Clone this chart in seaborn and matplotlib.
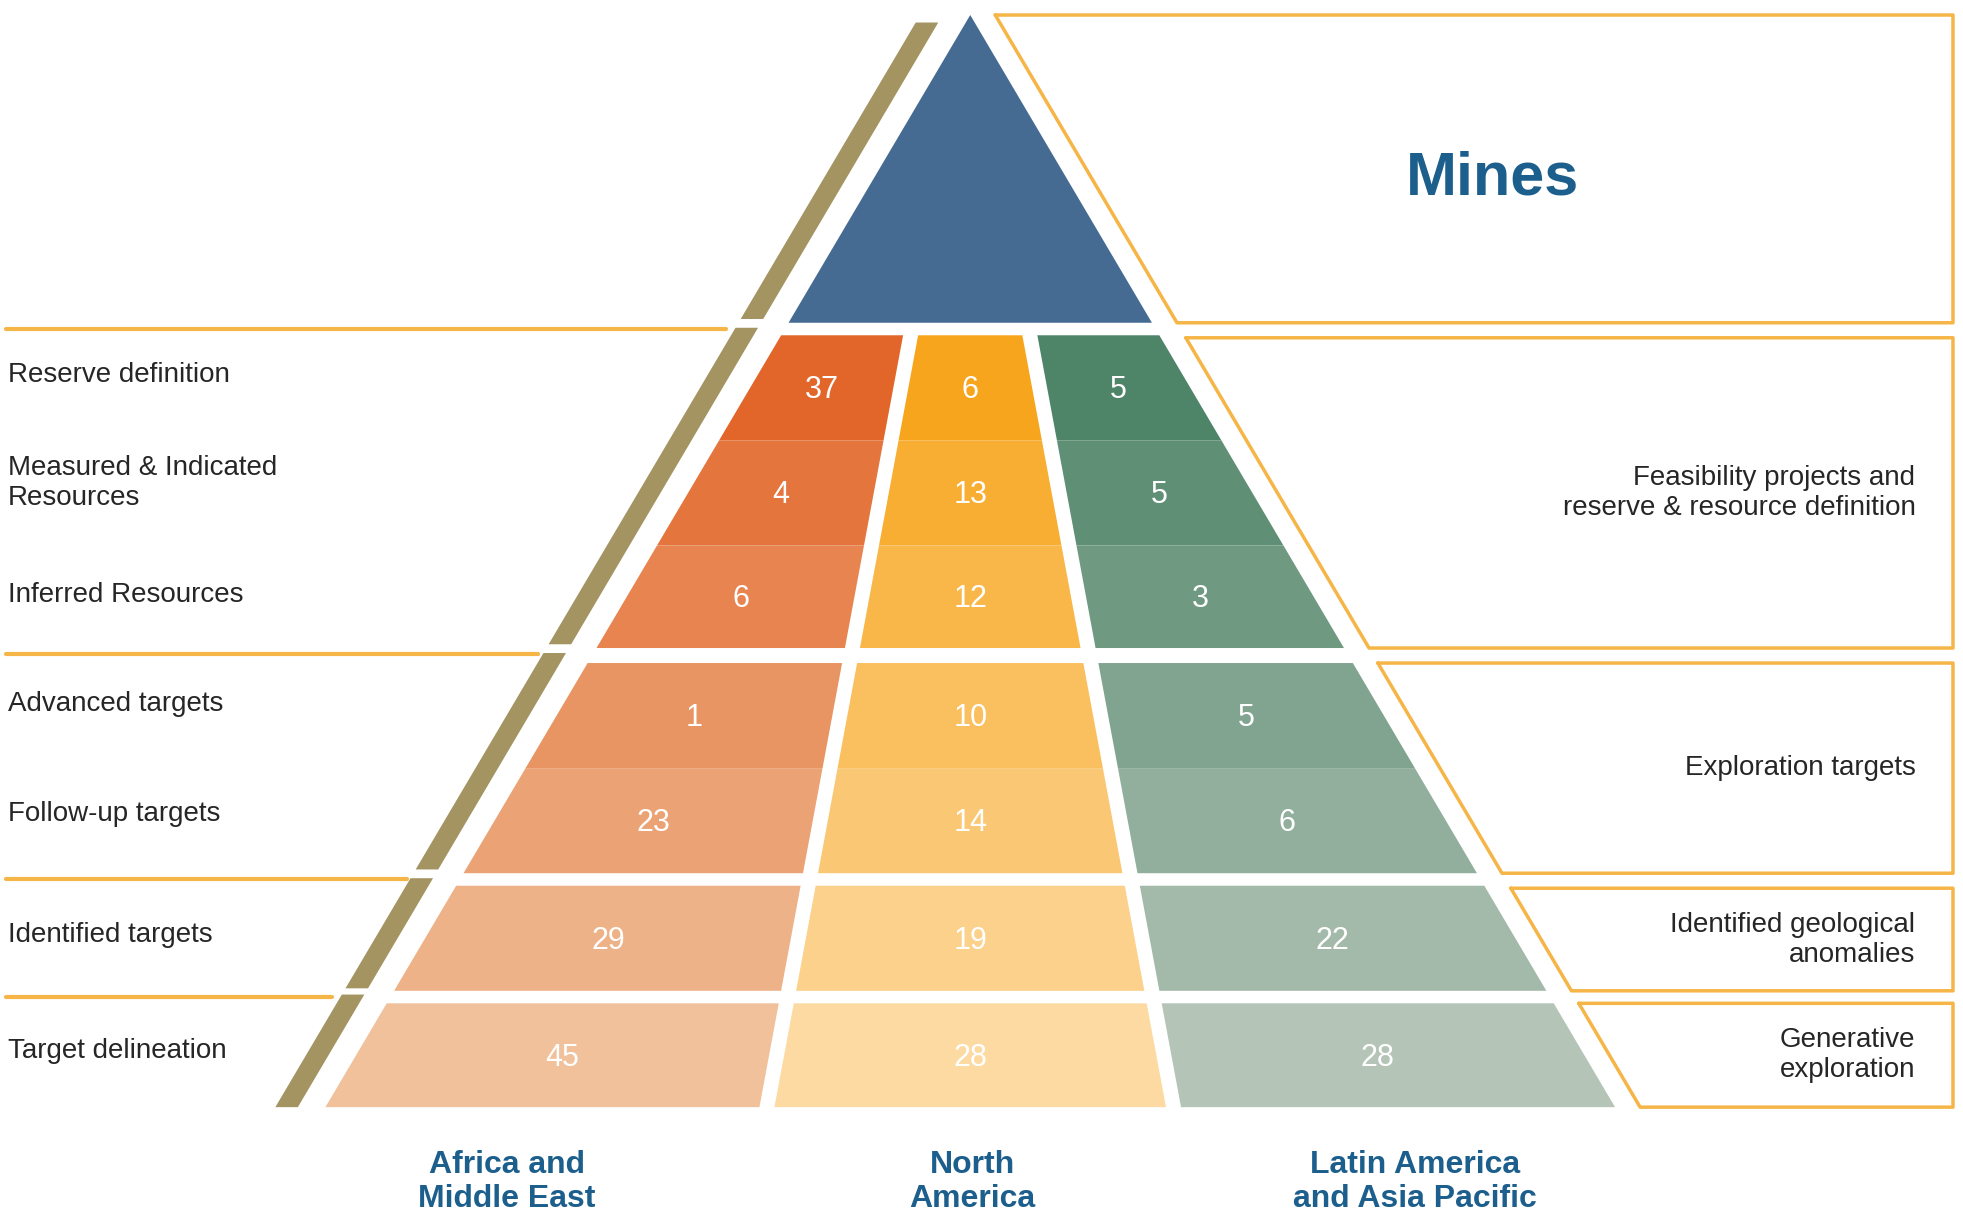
"""
Pirâmide de projetos de exploração por região
"""

import matplotlib.pyplot as plt
from matplotlib.patches import Polygon
import seaborn as sns

sns.set_style("white")
plt.rcParams['font.family'] = ['Liberation Sans', 'DejaVu Sans']

# Dados
stages = ['Reserve definition', 'Measured & Indicated\nResources', 'Inferred Resources',
          'Advanced targets', 'Follow-up targets', 'Identified targets', 'Target delineation']
regions = ['Africa and\nMiddle East', 'North\nAmerica', 'Latin America\nand Asia Pacific']
africa = [37, 4, 6, 1, 23, 29, 45]
north_america = [6, 13, 12, 10, 14, 19, 28]
latam_apac = [5, 5, 3, 5, 6, 22, 28]
groups = ['Mines', 'Feasibility projects and\nreserve & resource definition',
          'Exploration targets', 'Identified geological\nanomalies', 'Generative\nexploration']

# Geometria (coordenadas da imagem)
APEX_X, APEX_Y = 775, 12
SLOPE = 0.59
DIV = 0.186
GAP = 6
rows = [(268, 352), (352, 436), (436, 518), (530, 614), (614, 698), (708, 792), (802, 885)]
group_bands = [(12, 258), (270, 518), (530, 698), (710, 792), (802, 885)]
label_y = [300, 386, 476, 563, 651, 747, 840]

palettes = [
    sns.blend_palette(['#E2662A', '#F0C19B'], 7),
    sns.blend_palette(['#F7A51C', '#FCDAA2'], 7),
    sns.blend_palette(['#4E8468', '#B4C4B7'], 7),
]
ORANGE_LINE = '#F5B547'
BLUE = '#1C5E8C'
OLIVE = '#A39462'


def edge(y, side):
    return APEX_X + side * SLOPE * (y - APEX_Y)


def divider(y, side):
    return APEX_X + side * DIV * (y - APEX_Y)


fig = plt.figure(figsize=(19.63, 12.26), dpi=100)
ax = fig.add_axes([0, 0, 1, 1])
ax.set_xlim(0, 1568)
ax.set_ylim(980, 0)
ax.axis('off')

# Topo (Mines)
ax.add_patch(Polygon([(APEX_X, APEX_Y), (edge(258, 1), 258), (edge(258, -1), 258)],
                     closed=True, color='#466B92', lw=0))

# Células
for i, (y0, y1) in enumerate(rows):
    bounds = [
        (lambda y: edge(y, -1), lambda y: divider(y, -1) - GAP),
        (lambda y: divider(y, -1) + GAP, lambda y: divider(y, 1) - GAP),
        (lambda y: divider(y, 1) + GAP, lambda y: edge(y, 1)),
    ]
    for j, (lf, rf) in enumerate(bounds):
        poly = [(lf(y0), y0), (rf(y0), y0), (rf(y1), y1), (lf(y1), y1)]
        ax.add_patch(Polygon(poly, closed=True, color=palettes[j][i], lw=0))
        val = [africa, north_america, latam_apac][j][i]
        ym = (y0 + y1) / 2
        xm = (lf(ym) + rf(ym)) / 2
        ax.text(xm, ym + 2, str(val), color='white', fontsize=22, ha='center', va='center')

# Faixa oliva à esquerda
seg_bands = [(18, 255), (262, 515), (522, 695), (702, 790), (795, 885)]
for y0, y1 in seg_bands:
    off0, off1 = 30, 48
    poly = [(edge(y0, -1) - off0, y0), (edge(y0, -1) - off0 + 14, y0 + 10),
            (edge(y1, -1) - off0, y1), (edge(y1, -1) - off1, y1)]
    poly = [(edge(y0, -1) - off0 + 8, y0), (edge(y1, -1) - off0 + 8, y1),
            (edge(y1, -1) - off1 + 8, y1), (edge(y0, -1) - off1 + 8, y0)]
    ax.add_patch(Polygon(poly, closed=True, color=OLIVE, lw=0))

# Linhas laranja à esquerda
for y, xend in [(263, 580), (523, 430), (703, 325), (797, 265)]:
    ax.plot([5, xend], [y, y], color=ORANGE_LINE, lw=3)

# Caixas à direita
for (y0, y1), text in zip(group_bands, groups):
    x0 = edge(y0, 1) + 20
    x1 = edge(y1, 1) + 20
    ax.plot([x0, 1560, 1560, x1, x0], [y0, y0, y1, y1, y0], color=ORANGE_LINE, lw=2.5)
    if text == 'Mines':
        ax.text(1192, 143, text, color=BLUE, fontsize=44, fontweight='bold',
                ha='center', va='center')
    else:
        ax.text(1530, (y0 + y1) / 2, text, fontsize=20, ha='right', va='center',
                linespacing=1.2)

# Rótulos das etapas
for name, y in zip(stages, label_y):
    ax.text(6, y, name, fontsize=20, ha='left', va='center', linespacing=1.2)

# Rótulos das regiões
for x, name in zip([405, 777, 1130], regions):
    ax.text(x, 945, name, color=BLUE, fontsize=23, fontweight='bold',
            ha='center', va='center', linespacing=1.15)

plt.savefig('out.png', dpi=100)
